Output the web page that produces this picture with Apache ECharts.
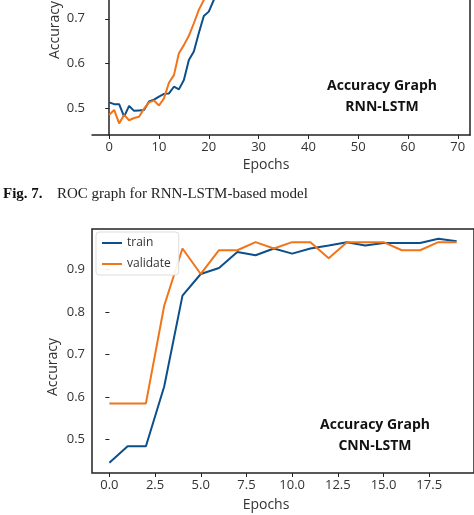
<!DOCTYPE html>
<html>
<head>
<meta charset="utf-8">
<script src="https://cdn.jsdelivr.net/npm/echarts@6/dist/echarts.min.js"></script>
<style>
html, body { margin: 0; padding: 0; background: #fff; }
#chart { width: 474px; height: 515px; }
</style>
</head>
<body>
<div id="chart"></div>
<script>
// RNN-LSTM（上图，只露出下半部分）
var rnnEpochs = [];
for (var i = 0; i < 70; i++) rnnEpochs.push(i);
var rnnTrain = [0.513, 0.509, 0.509, 0.481, 0.505, 0.494, 0.495, 0.496, 0.515, 0.519,
	0.526, 0.532, 0.533, 0.548, 0.542, 0.563, 0.608, 0.627, 0.668, 0.706,
	0.716, 0.742, 0.77, 0.80, 0.83, 0.85, 0.87, 0.88, 0.89, 0.90,
	0.91, 0.91, 0.92, 0.92, 0.93, 0.93, 0.93, 0.94, 0.94, 0.94,
	0.94, 0.95, 0.95, 0.95, 0.95, 0.95, 0.95, 0.96, 0.96, 0.96,
	0.96, 0.96, 0.96, 0.96, 0.96, 0.97, 0.97, 0.97, 0.97, 0.97,
	0.97, 0.97, 0.97, 0.97, 0.97, 0.97, 0.97, 0.97, 0.97, 0.97];
var rnnVal = [0.485, 0.496, 0.466, 0.485, 0.473, 0.478, 0.481, 0.499, 0.513, 0.517,
	0.506, 0.522, 0.557, 0.574, 0.623, 0.641, 0.662, 0.690, 0.720, 0.742,
	0.78, 0.81, 0.84, 0.86, 0.87, 0.88, 0.89, 0.90, 0.91, 0.91,
	0.92, 0.92, 0.93, 0.93, 0.93, 0.94, 0.94, 0.94, 0.94, 0.95,
	0.95, 0.95, 0.95, 0.95, 0.95, 0.96, 0.96, 0.96, 0.96, 0.96,
	0.96, 0.96, 0.96, 0.96, 0.96, 0.96, 0.96, 0.96, 0.96, 0.96,
	0.96, 0.96, 0.96, 0.96, 0.96, 0.96, 0.96, 0.96, 0.96, 0.96];
var rnnXTicks = [0, 10, 20, 30, 40, 50, 60, 70];
var rnnYTicks = [0.5, 0.6, 0.7];

// CNN-LSTM（下图）
var cnnEpochs = [0, 1, 2, 3, 4, 5, 6, 7, 8, 9, 10, 11, 12, 13, 14, 15, 16, 17, 18, 19];
var cnnTrain = [0.445, 0.484, 0.484, 0.625, 0.839, 0.890, 0.904, 0.942, 0.934, 0.950,
	0.938, 0.950, 0.957, 0.965, 0.957, 0.963, 0.963, 0.963, 0.973, 0.967];
var cnnVal = [0.585, 0.585, 0.585, 0.815, 0.950, 0.890, 0.946, 0.946, 0.965, 0.950,
	0.965, 0.965, 0.927, 0.965, 0.965, 0.965, 0.946, 0.946, 0.965, 0.965];
var cnnXTicks = [0, 2.5, 5, 7.5, 10, 12.5, 15, 17.5];
var cnnYTicks = [0.5, 0.6, 0.7, 0.8, 0.9];

var blue = '#0d4f8b';
var orange = '#f0751a';
var labelFont = { color: '#333', fontSize: 13, fontFamily: 'Open Sans' };
var frameLine = { show: true, lineStyle: { color: '#222', width: 1.5 } };

function pairs(xs, ys) {
	return xs.map(function(x, i) { return [x, ys[i]]; });
}

function makeX(idx, min, max, ticks, fmt, showLine) {
	return {
		type: 'value', gridIndex: idx, min: min, max: max,
		splitLine: { show: false },
		axisLine: showLine ? frameLine : { show: false },
		axisTick: { show: true, customValues: ticks, length: 4, lineStyle: { color: '#222' } },
		axisLabel: Object.assign({ customValues: ticks, margin: 6, formatter: fmt }, labelFont)
	};
}
function makeY(idx, min, max, ticks, showLine) {
	return {
		type: 'value', gridIndex: idx, min: min, max: max,
		splitLine: { show: false },
		axisLine: showLine ? frameLine : { show: false },
		axisTick: { show: true, customValues: ticks, length: 4, lineStyle: { color: '#222' } },
		axisLabel: Object.assign({ customValues: ticks, margin: 7, formatter: function(v) { return v.toFixed(1); } }, labelFont)
	};
}
function line(name, x, y, data, color) {
	return {
		name: name, type: 'line', xAxisIndex: x, yAxisIndex: y,
		data: data, symbol: 'none', smooth: false, clip: true,
		lineStyle: { color: color, width: 2 }, itemStyle: { color: color }
	};
}
function label(x, y, s, rot, bold) {
	return {
		type: 'text', x: x, y: y, rotation: rot || 0,
		style: { text: s, fill: bold ? '#111' : '#333', fontSize: 14, fontWeight: bold ? 'bold' : 'normal',
			fontFamily: 'Open Sans', align: 'center', verticalAlign: 'middle' }
	};
}

var chart = echarts.init(document.getElementById('chart'));
chart.setOption({
	animation: false,
	grid: [
		// 上图顶部被裁掉，所以不画顶边框
		{ left: 92, width: 378, top: 0, height: 135, show: false },
		{ left: 92, width: 388, top: 229, height: 244, show: true, borderColor: '#222', borderWidth: 1.5 }
	],
	xAxis: [
		makeX(0, -3.45, 72.45, rnnXTicks, function(v) { return String(v); }, true),
		makeX(1, -0.95, 19.95, cnnXTicks, function(v) { return v.toFixed(1); }, false)
	],
	yAxis: [
		makeY(0, 0.44, 0.742, rnnYTicks, true),
		makeY(1, 0.421, 0.996, cnnYTicks, false),
		{ type: 'value', gridIndex: 0, position: 'right', min: 0.44, max: 0.742,
			splitLine: { show: false }, axisTick: { show: false }, axisLabel: { show: false }, axisLine: frameLine }
	],
	legend: {
		data: ['train', 'validate'],
		orient: 'vertical', left: 96, top: 232, icon: 'rect',
		backgroundColor: 'rgba(255,255,255,0.9)', borderColor: '#ddd', borderWidth: 1, borderRadius: 3,
		padding: [5, 8, 5, 6], itemGap: 9, itemWidth: 20, itemHeight: 2,
		textStyle: { color: '#333', fontSize: 12, fontFamily: 'Open Sans' }
	},
	series: [
		line('rnn train', 0, 0, pairs(rnnEpochs, rnnTrain), blue),
		line('rnn validate', 0, 0, pairs(rnnEpochs, rnnVal), orange),
		line('train', 1, 1, pairs(cnnEpochs, cnnTrain), blue),
		line('validate', 1, 1, pairs(cnnEpochs, cnnVal), orange)
	],
	graphic: [
		// 坐标轴标题
		label(55, 30, 'Accuracy', Math.PI / 2),
		label(53, 367, 'Accuracy', Math.PI / 2),
		label(266, 165, 'Epochs'),
		label(266, 505, 'Epochs'),
		// 图内标注
		label(382, 86, 'Accuracy Graph', 0, true),
		label(382, 107, 'RNN-LSTM', 0, true),
		label(375, 425, 'Accuracy Graph', 0, true),
		label(375, 446, 'CNN-LSTM', 0, true),
		// 图注
		{ type: 'text', left: 3, top: 187, style: { text: 'Fig. 7.', fill: '#111', fontSize: 15, fontWeight: 'bold', fontFamily: 'Liberation Serif' } },
		{ type: 'text', left: 57, top: 187, style: { text: 'ROC graph for RNN-LSTM-based model', fill: '#222', fontSize: 15, fontFamily: 'Liberation Serif' } }
	]
});
</script>
</body>
</html>
